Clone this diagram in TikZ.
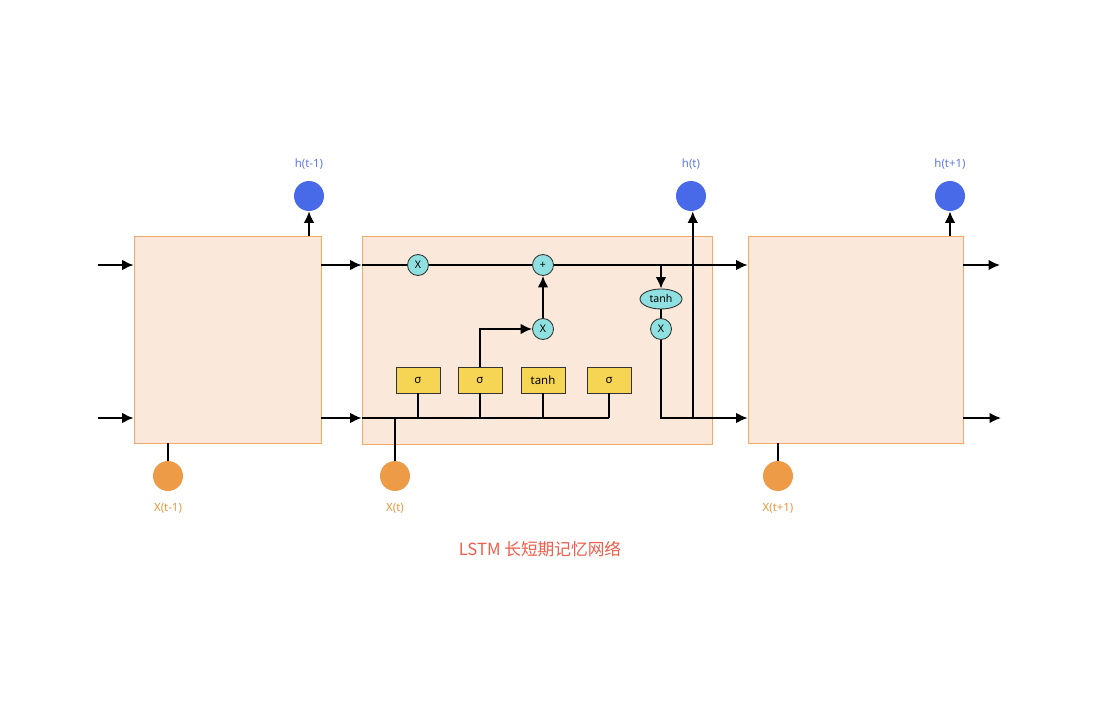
\documentclass[tikz,border=0pt]{standalone}
\usepackage{fontspec}
\setmainfont{Noto Sans}
\newfontfamily\cjk{Noto Sans CJK SC}
\usetikzlibrary{
  shapes.geometric,
  arrows.meta,
  calc
}

\definecolor{cellfill}{RGB}{250,233,219}
\definecolor{celldraw}{RGB}{244,170,100}
\definecolor{hblue}{RGB}{72,106,232}
\definecolor{hlabel}{RGB}{92,122,232}
\definecolor{xorange}{RGB}{238,155,71}
\definecolor{xlabel}{RGB}{232,150,60}
\definecolor{opteal}{RGB}{143,224,224}
\definecolor{gateyel}{RGB}{246,212,84}
\definecolor{titlered}{RGB}{242,92,74}

\tikzset{
  cell/.style = {rectangle, fill=cellfill, draw=celldraw, line width=0.5pt},
  hout/.style = {circle, fill=hblue, minimum size=0.6cm, inner sep=0pt},
  xin/.style = {circle, fill=xorange, minimum size=0.6cm, inner sep=0pt},
  op/.style = {circle, fill=opteal, draw=black!80, line width=0.5pt,
    minimum size=0.42cm, inner sep=0pt, font=\fontsize{6}{7}\selectfont},
  gate/.style = {rectangle, fill=gateyel, draw=black!80, line width=0.5pt,
    minimum width=0.88cm, minimum height=0.52cm, inner sep=0pt,
    font=\fontsize{6.5}{7}\selectfont},
  lbl/.style = {font=\fontsize{6.5}{7}\selectfont},
  wire/.style = {line width=1pt, black}
}

\begin{document}
\begin{tikzpicture}[x=0.02cm, y=-0.02cm, >={Latex[length=6.5pt,width=6pt]}]
    \useasboundingbox[fill=white] (0,0) rectangle (1099,726);

    % the three cells
    \node[cell, minimum width=3.74cm, minimum height=4.14cm] (c1) at (227.5,339.5) {};
    \node[cell, minimum width=7.0cm, minimum height=4.16cm] (c2) at (537,340) {};
    \node[cell, minimum width=4.3cm, minimum height=4.14cm] (c3) at (855.5,339.5) {};

    % outputs and inputs
    \node[hout] (h1) at (309,196) {};
    \node[hout] (h2) at (691,196) {};
    \node[hout] (h3) at (950,196) {};
    \node[lbl, text=hlabel] at (309,164) {h(t-1)};
    \node[lbl, text=hlabel] at (691,164) {h(t)};
    \node[lbl, text=hlabel] at (950,164) {h(t+1)};

    \node[xin] (x1) at (168,476) {};
    \node[xin] (x2) at (395,476) {};
    \node[xin] (x3) at (778,476) {};
    \node[lbl, text=xlabel] at (168,508) {X(t-1)};
    \node[lbl, text=xlabel] at (395,508) {X(t)};
    \node[lbl, text=xlabel] at (778,508) {X(t+1)};

    % inside the middle cell
    \node[op] (m1) at (418,265) {X};
    \node[op] (p1) at (543,265) {+};
    \node[op] (m2) at (543,329) {X};
    \node[ellipse, fill=opteal, draw=black!80, line width=0.5pt, minimum width=0.84cm,
      minimum height=0.4cm, inner sep=0pt, font=\fontsize{6}{7}\selectfont] (th) at (661,299) {tanh};
    \node[op] (m3) at (661,329) {X};

    \node[gate] (g1) at (418,380) {σ};
    \node[gate] (g2) at (480,380) {σ};
    \node[gate] (g3) at (543,380) {tanh};
    \node[gate] (g4) at (609,380) {σ};

    \coordinate (in1) at (98,265);
    \coordinate (in2) at (98,418);
    \coordinate (out1) at (1000,265);
    \coordinate (out2) at (1001,418);

    % cell state and hidden lines
    \draw[wire, ->] (in1) -- (in1 -| c1.west);
    \draw[wire, ->] (in2) -- (in2 -| c1.west);
    \draw[wire, ->] (c1.east |- in1) -- (c2.west |- in1);
    \draw[wire, ->] (c1.east |- in2) -- (c2.west |- in2);
    \draw[wire] (c2.west |- in1) -- (m1.west);
    \draw[wire] (m1.east) -- (p1.west);
    \draw[wire, ->] (p1.east) -- (c3.west |- in1);
    \draw[wire, ->] (th |- p1) -- (th.north);
    \draw[wire] (th.south) -- (m3.north);
    \draw[wire, ->] (m3.south) |- (c3.west |- in2);
    \draw[wire, ->] ([xshift=1pt]h2 |- in2) -- ([xshift=1pt]h2.south);

    % gates
    \draw[wire] (c2.west |- in2) -- (g4 |- in2);
    \draw[wire] (g1.south) -- (g1 |- in2);
    \draw[wire] (g2.south) -- (g2 |- in2);
    \draw[wire] (g3.south) -- (g3 |- in2);
    \draw[wire] (g4.south) -- (g4 |- in2);
    \draw[wire, ->] (g2.north) |- (m2.west);
    \draw[wire, ->] (m2.north) -- (p1.south);
    \draw[wire] (x2.north) -- (x2 |- in2);

    % outer cells
    \draw[wire, ->] (h1 |- c1.north) -- (h1.south);
    \draw[wire, ->] (h3 |- c3.north) -- (h3.south);
    \draw[wire] (x1 |- c1.south) -- (x1.north);
    \draw[wire] (x3 |- c3.south) -- (x3.north);
    \draw[wire, ->] (c3.east |- out1) -- (out1);
    \draw[wire, ->] (c3.east |- out2) -- (out2);

    \node[text=titlered, font=\cjk\fontsize{9.5}{11}\selectfont] (title) at (540,549) {LSTM 长短期记忆网络};
\end{tikzpicture}
\end{document}
